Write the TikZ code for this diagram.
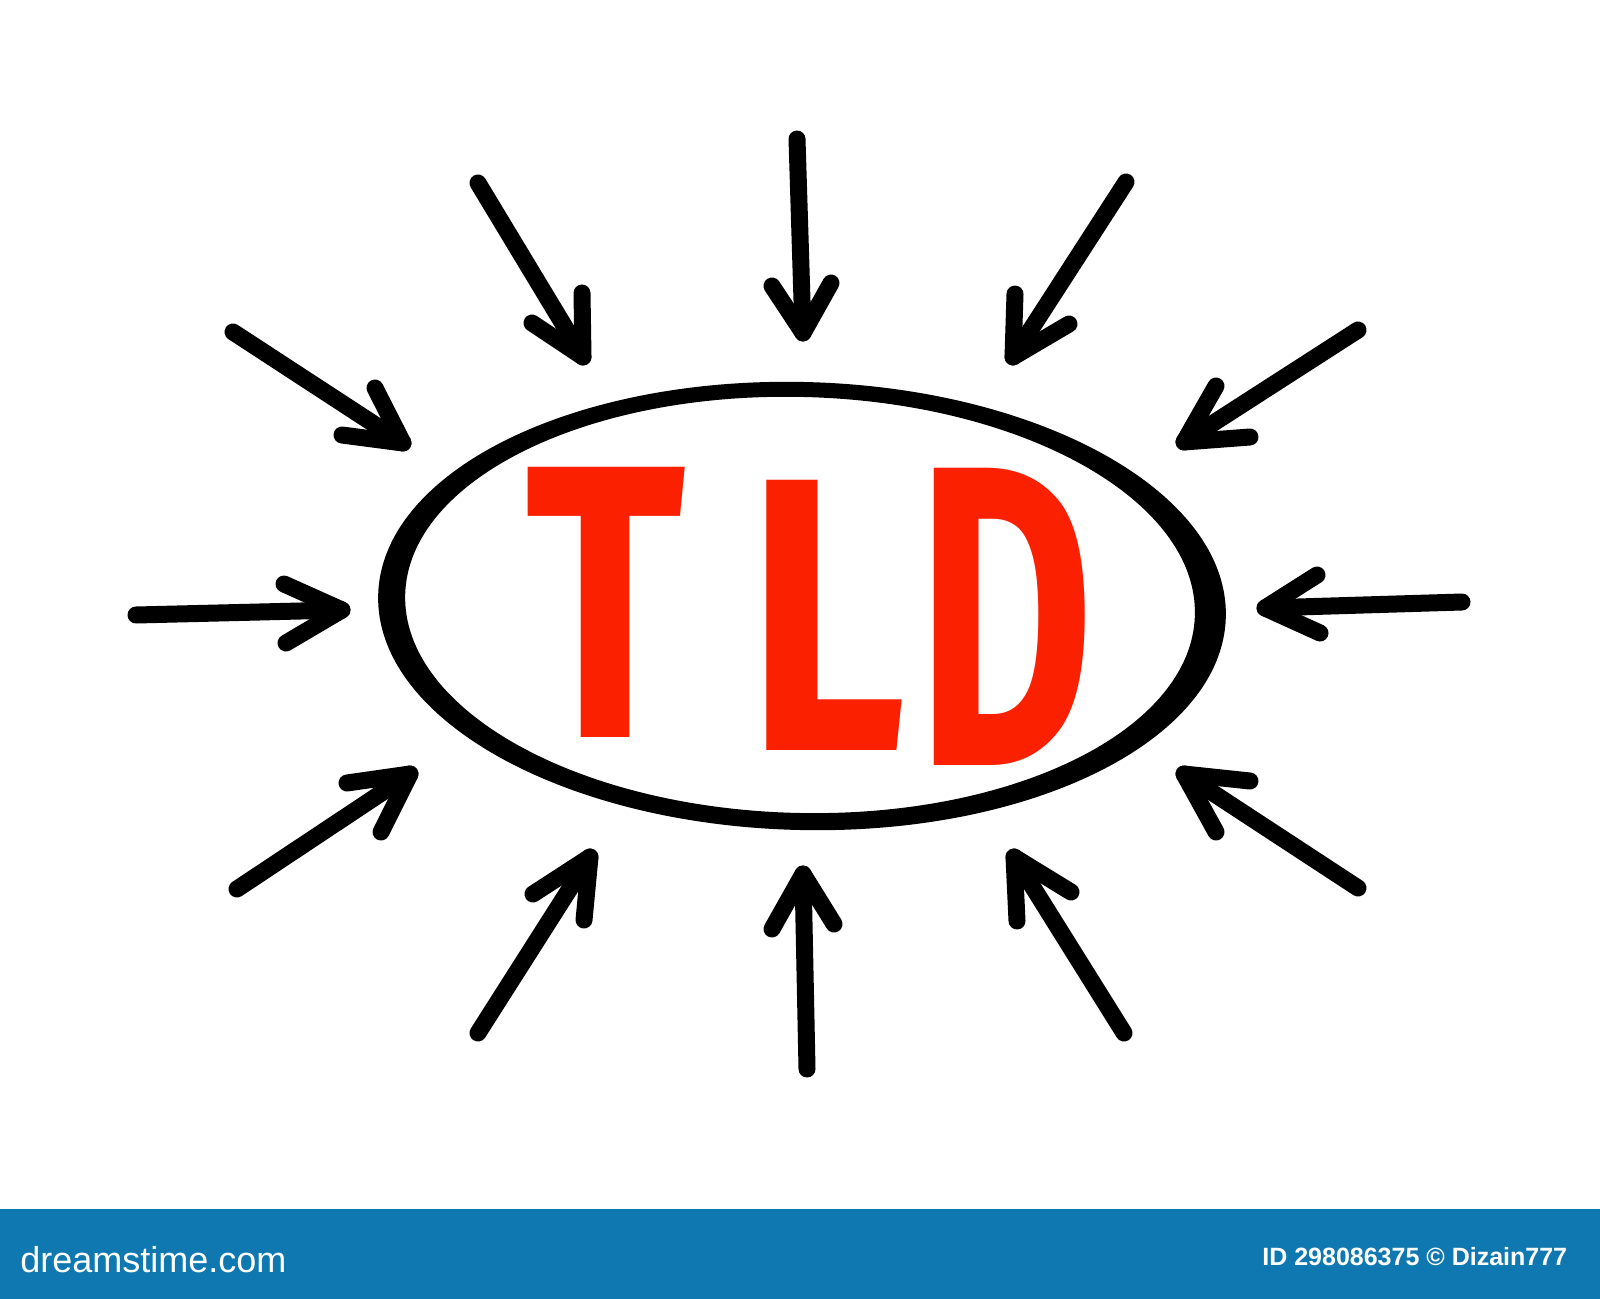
\documentclass[tikz,border=0pt]{standalone}
\usepackage{fontspec}
\usepackage{graphicx}
\newfontfamily\letterfont{Fira Sans}
\newfontfamily\barfont{Liberation Sans}
\definecolor{tldred}{RGB}{250,32,0}
\definecolor{barblue}{RGB}{15,120,176}
\begin{document}
\begin{tikzpicture}[x=0.5pt,y=-0.5pt,
  arr/.style={line width=8.5pt,line cap=round,line join=round,draw=black},
  letter/.style={text=tldred,inner sep=0pt,anchor=base,font=\letterfont\bfseries\fontsize{195}{195}\selectfont},
  bartext/.style={text=white,inner sep=0pt,anchor=base west}]
\useasboundingbox (0,0) rectangle (1600,1299);
\fill[white] (0,0) rectangle (1600,1299);
\fill[barblue] (0,1209) rectangle (1600,1299);
% ring
\coordinate (c) at (802,606);
\fill[black,even odd rule,rotate around={-1.5:(c)}]
  (802,606) ellipse [x radius=424, y radius=224]
  (800,605) ellipse [x radius=395, y radius=208];
% letters
\node[letter] (T) at (606,737) {\scalebox{0.76}[1]{T}};
\node[letter] (L) at (827,750) {\scalebox{0.80}[1]{L}};
\node[letter] (D) at (1005,765) {\scalebox{0.70}[1.1]{D}};
% arrows: tail / head / arm / arm
\foreach \i/\tx/\ty/\hx/\hy/\ax/\ay/\bx/\by in {
  1/797/139/803/333/772/286/831/283,
  2/478/183/583/357/582/293/532/323,
  3/1126/182/1013/357/1015/294/1069/324,
  4/233/332/403/443/375/388/342/435,
  5/1358/330/1184/442/1216/386/1250/437,
  6/136/615/342/610/284/584/286/643,
  7/1462/602/1265/608/1317/575/1320/633,
  8/237/889/410/774/347/783/381/832,
  9/1358/888/1184/774/1216/832/1250/781,
  10/478/1033/590/857/533/894/584/920,
  11/807/1069/803/874/772/929/834/924,
  12/1124/1033/1014/857/1017/921/1071/892}{
  \coordinate (t\i) at (\tx,\ty);
  \coordinate (h\i) at (\hx,\hy);
  \coordinate (a\i) at (\ax,\ay);
  \coordinate (b\i) at (\bx,\by);
  \draw[arr] (t\i) -- (h\i);
  \draw[arr] (a\i) -- (h\i) -- (b\i);
}
% bar texts
\node[bartext,font=\barfont\fontsize{18}{18}\selectfont] (site) at (20,1272) {dreamstime.com};
\node[bartext,font=\barfont\bfseries\fontsize{12.5}{12.5}\selectfont] (id) at (1262,1265) {ID 298086375 © Dizain777};
\end{tikzpicture}
\end{document}
